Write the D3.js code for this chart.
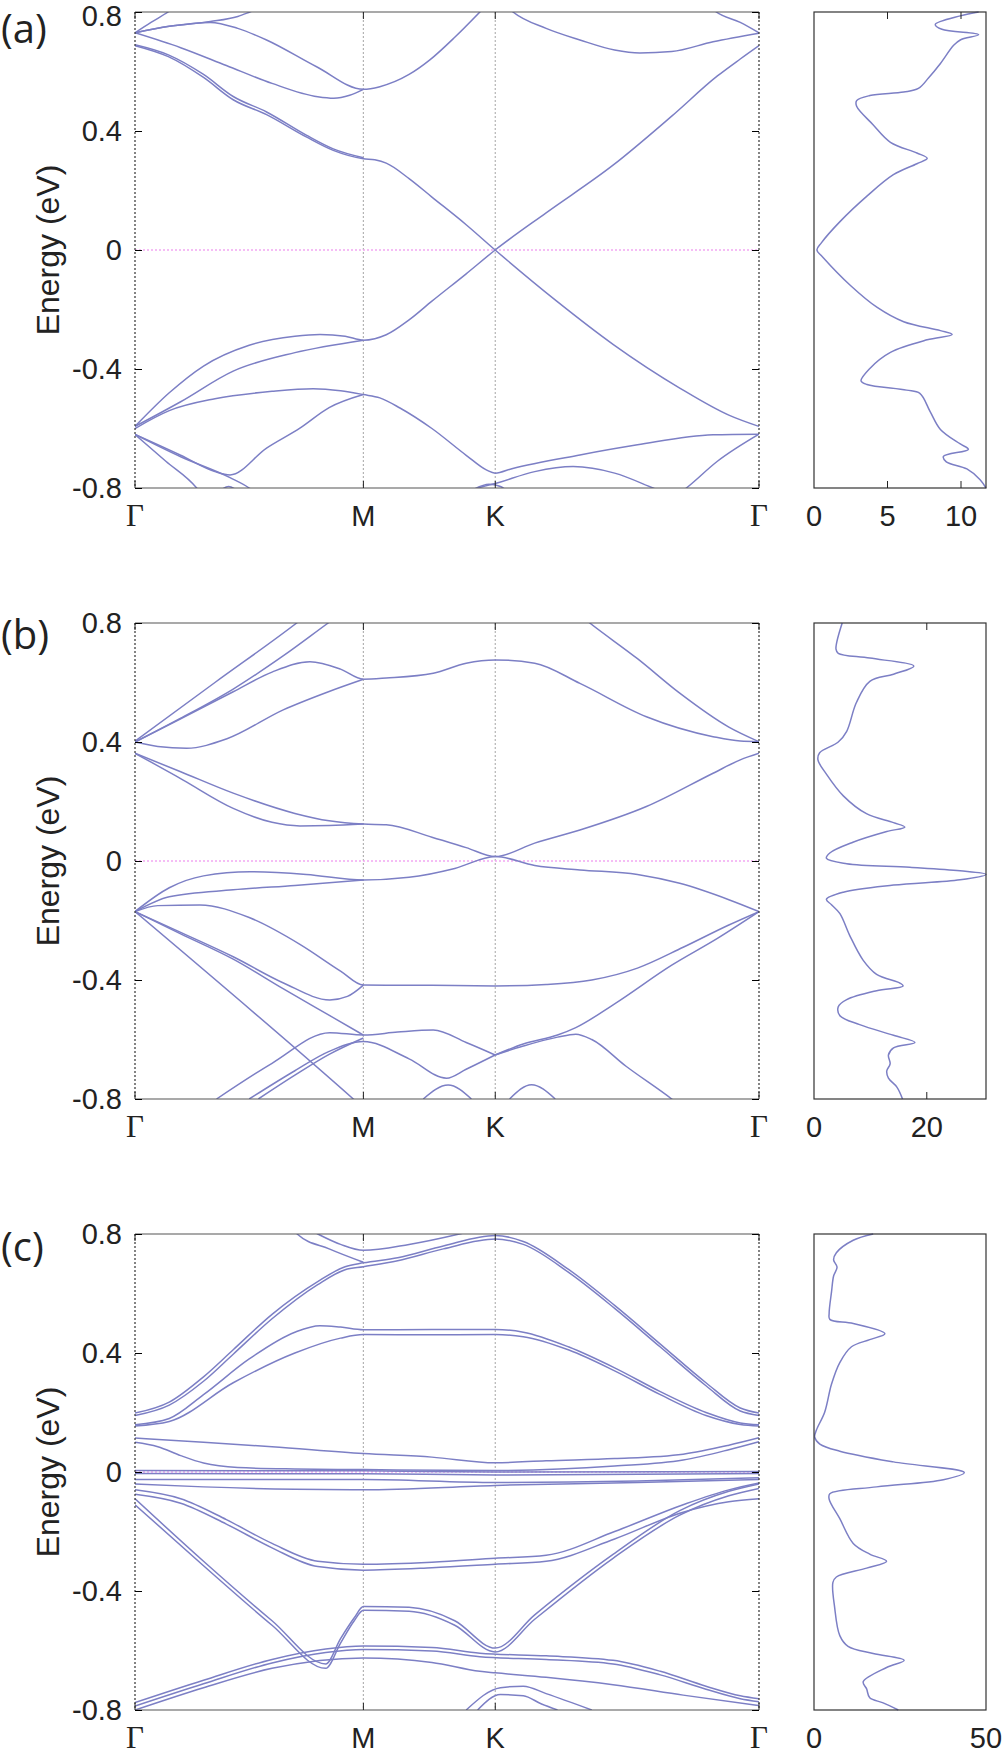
<!DOCTYPE html>
<html>
<head>
<meta charset="utf-8">
<script src="https://cdn.jsdelivr.net/npm/d3@7/dist/d3.min.js"></script>
<style>
  body { margin: 0; background: #fff; }
  text { font-family: "Liberation Sans", Arial, sans-serif; fill: #222; }
</style>
</head>
<body>
<svg id="fig" width="1004" height="1755"></svg>
<script>
// k-path: Γ - M - K - Γ (distance units, Γ-M = 1)
const kPoints = [0, 1, 1.5774, 2.7321];
const kNames = ["Γ", "M", "K", "Γ"];
const eTicks = [-0.8, -0.4, 0, 0.4, 0.8];

// ---------- panel (a) ----------
const bandsA = [
  [[0,0.73],[0.07,0.765],[0.145,0.80],[0.2,0.83]],
  [[0,0.73],[0.15,0.752],[0.33,0.768],[0.45,0.785],[0.503,0.80],[0.6,0.83]],
  [[0,0.73],[0.15,0.752],[0.33,0.765],[0.45,0.745],[0.576,0.706],[0.795,0.616],[1,0.54],
   [1.072,0.549],[1.2,0.59],[1.291,0.639],[1.4,0.715],[1.51,0.80],[1.56,0.84]],
  [[0,0.73],[0.2,0.68],[0.4,0.62],[0.6,0.56],[0.8,0.515],[0.87,0.51],[0.94,0.52],[1,0.54]],
  [[0,0.687],[0.146,0.65],[0.3,0.58],[0.43,0.505],[0.576,0.455],[0.75,0.38],[0.868,0.335],[1,0.307],
   [1.05,0.303],[1.1,0.292],[1.2,0.24],[1.3,0.178],[1.45,0.085],[1.577,0],[1.845,-0.171],[2.093,-0.317],[2.385,-0.464],[2.6,-0.555],[2.732,-0.593]],
  [[0,0.69],[0.146,0.656],[0.3,0.59],[0.43,0.516],[0.576,0.464],[0.75,0.386],[0.868,0.34],[1,0.31]],
  [[0,-0.593],[0.2,-0.51],[0.43,-0.407],[0.7,-0.345],[1,-0.303]],
  [[0,-0.593],[0.15,-0.48],[0.3,-0.39],[0.5,-0.32],[0.7,-0.29],[0.81,-0.284],[0.92,-0.29],[1,-0.303],
   [1.05,-0.298],[1.1,-0.285],[1.2,-0.235],[1.3,-0.172],[1.45,-0.08],[1.577,0],[1.8,0.125],[2.093,0.285],[2.35,0.45],[2.55,0.585],[2.65,0.642],[2.732,0.687]],
  [[0,-0.60],[0.15,-0.54],[0.35,-0.50],[0.6,-0.475],[0.78,-0.466],[0.9,-0.473],[1,-0.486],
   [1.072,-0.497],[1.16,-0.531],[1.3,-0.6],[1.45,-0.69],[1.54,-0.74],[1.577,-0.75],[1.65,-0.735],
   [1.948,-0.689],[2.2,-0.655],[2.531,-0.621],[2.732,-0.619]],
  [[0,-0.62],[0.2,-0.69],[0.35,-0.745],[0.416,-0.756],[0.576,-0.666],[0.722,-0.599],[0.85,-0.53],[1,-0.486]],
  [[0,-0.62],[0.2,-0.695],[0.416,-0.765],[0.5,-0.80],[0.55,-0.83]],
  [[0,-0.62],[0.135,-0.71],[0.27,-0.80],[0.3,-0.83]],
  [[0.37,-0.81],[0.41,-0.795],[0.45,-0.81]],
  [[1.47,-0.81],[1.55,-0.787],[1.6,-0.795],[1.63,-0.81]],
  [[1.5,-0.80],[1.577,-0.785],[1.75,-0.745],[1.918,-0.728],[2.1,-0.75],[2.268,-0.80],[2.3,-0.81]],
  [[2.38,-0.82],[2.414,-0.80],[2.55,-0.71],[2.732,-0.619]],
  [[2.5,0.83],[2.545,0.80],[2.65,0.765],[2.732,0.73]],
  [[1.6,0.84],[1.655,0.80],[1.8,0.745],[1.948,0.706],[2.1,0.672],[2.21,0.662],[2.35,0.667],[2.531,0.70],[2.732,0.729]]
];
const dosEA = [0.8,0.787,0.758,0.742,0.724,0.706,0.688,0.627,0.579,0.543,0.531,0.519,0.502,0.483,0.422,0.362,0.326,0.308,0.29,0.253,0.181,0.097,0.024,0,-0.024,-0.12,-0.193,-0.241,-0.271,-0.284,-0.302,-0.344,-0.398,-0.44,-0.452,-0.471,-0.482,-0.543,-0.603,-0.652,-0.67,-0.694,-0.712,-0.736,-0.772,-0.8];
const dosVA = [11.2,9.95,8.25,8.7,11.2,9.95,9.5,8.6,7.8,7.1,6.1,3.8,2.9,2.9,4.0,5.2,7.0,7.7,7.0,5.4,3.6,1.8,0.5,0.2,0.6,2.5,4.3,6.1,8.6,9.4,7.7,5.2,3.8,3.2,3.6,6.3,7.2,7.9,8.6,9.95,10.5,8.8,9.0,10.4,11.3,11.7];

// ---------- panel (b) ----------
const bandsB = [
  [[0,0.403],[0.35,0.60],[0.708,0.80],[0.75,0.825]],
  [[0,0.40],[0.2,0.48],[0.43,0.578],[0.65,0.69],[0.846,0.80],[0.9,0.83]],
  [[0,0.40],[0.2,0.478],[0.43,0.569],[0.6,0.635],[0.766,0.67],[0.9,0.645],[1,0.611],
   [1.1,0.615],[1.306,0.631],[1.45,0.665],[1.577,0.676],[1.75,0.665],[1.948,0.597],[2.239,0.485],[2.531,0.418],[2.65,0.403],[2.732,0.401]],
  [[0,0.40],[0.1,0.385],[0.226,0.379],[0.4,0.41],[0.649,0.508],[0.85,0.57],[1,0.611]],
  [[1.95,0.825],[1.991,0.80],[2.2,0.68],[2.385,0.564],[2.6,0.45],[2.732,0.401]],
  [[0,0.362],[0.2,0.30],[0.43,0.228],[0.7,0.16],[0.85,0.135],[1,0.124],
   [1.1,0.122],[1.3,0.08],[1.45,0.045],[1.577,0.015],[1.75,0.06],[1.948,0.104],[2.239,0.183],[2.531,0.295],[2.65,0.34],[2.732,0.362]],
  [[0,0.362],[0.1,0.32],[0.211,0.272],[0.43,0.177],[0.6,0.13],[0.722,0.118],[0.85,0.119],[1,0.124]],
  [[0,-0.17],[0.15,-0.09],[0.3,-0.05],[0.503,-0.036],[0.75,-0.045],[1,-0.064],
   [1.2,-0.055],[1.4,-0.025],[1.577,0.015],[1.75,-0.015],[1.948,-0.03],[2.2,-0.045],[2.385,-0.075],[2.6,-0.13],[2.732,-0.17]],
  [[0,-0.17],[0.15,-0.12],[0.43,-0.097],[0.7,-0.082],[1,-0.064]],
  [[0,-0.17],[0.1,-0.15],[0.284,-0.148],[0.5,-0.19],[0.722,-0.28],[0.9,-0.37],[1,-0.417],
   [1.3,-0.418],[1.577,-0.42],[1.8,-0.415],[2.0,-0.40],[2.2,-0.36],[2.4,-0.29],[2.6,-0.215],[2.732,-0.17]],
  [[0,-0.17],[0.2,-0.24],[0.43,-0.322],[0.65,-0.41],[0.853,-0.467],[0.93,-0.455],[1,-0.417]],
  [[0,-0.17],[0.2,-0.245],[0.43,-0.33],[0.65,-0.43],[0.853,-0.52],[1,-0.585]],
  [[0,-0.17],[0.956,-0.80],[1.0,-0.83]],
  [[0.357,-0.80],[0.6,-0.68],[0.853,-0.577],[1,-0.585],[1.15,-0.575],[1.306,-0.568],[1.45,-0.61],[1.577,-0.652]],
  [[0.5,-0.80],[0.7,-0.705],[0.85,-0.64],[1,-0.607],[1.2,-0.665],[1.364,-0.73],[1.45,-0.70],[1.577,-0.652]],
  [[0.54,-0.80],[0.7,-0.72],[0.85,-0.65],[1,-0.595]],
  [[1.262,-0.80],[1.371,-0.753],[1.473,-0.80]],
  [[1.577,-0.652],[1.7,-0.615],[1.85,-0.585],[1.93,-0.56],[2.1,-0.48],[2.35,-0.35],[2.55,-0.26],[2.732,-0.17]],
  [[1.577,-0.652],[1.7,-0.622],[1.85,-0.592],[1.93,-0.582],[2.0,-0.60],[2.15,-0.69],[2.35,-0.80],[2.4,-0.83]],
  [[1.64,-0.80],[1.736,-0.752],[1.84,-0.80]]
];
const dosEB = [0.8,0.712,0.698,0.682,0.655,0.628,0.604,0.532,0.436,0.4,0.364,0.34,0.292,0.219,0.159,0.129,0.114,0.099,0.063,0.027,0.009,-0.009,-0.021,-0.033,-0.045,-0.063,-0.081,-0.105,-0.129,-0.147,-0.177,-0.249,-0.333,-0.381,-0.411,-0.42,-0.436,-0.466,-0.49,-0.52,-0.55,-0.586,-0.61,-0.628,-0.652,-0.682,-0.706,-0.73,-0.76,-0.8];
const dosVB = [5.0,3.9,4.3,9.9,17.7,14.1,9.9,7.5,5.8,4.3,1.0,0.7,2.2,5.2,9.3,14.1,16.1,12.9,6.9,2.8,2.2,5.8,17.0,25.9,30.5,25.9,14.1,5.2,2.2,3.1,4.6,6.3,8.7,11.1,15.3,15.8,11.1,5.8,4.3,4.6,8.1,14.1,17.9,14.1,13.2,13.5,12.9,13.2,14.7,15.7];

// ---------- panel (c) ----------
const bandsC = [
  [[0,0.198],[0.15,0.235],[0.3,0.32],[0.43,0.411],[0.6,0.53],[0.8,0.64],[0.92,0.69],[1,0.703],[1.15,0.72],[1.35,0.76],[1.577,0.795],[1.7,0.775],[1.9,0.68],[2.1,0.56],[2.3,0.43],[2.5,0.3],[2.65,0.215],[2.732,0.198]],
  [[0,0.19],[0.15,0.225],[0.3,0.305],[0.43,0.396],[0.6,0.515],[0.8,0.63],[0.92,0.68],[1,0.69],[1.15,0.71],[1.35,0.75],[1.577,0.783],[1.7,0.765],[1.9,0.67],[2.1,0.55],[2.3,0.42],[2.5,0.29],[2.65,0.205],[2.732,0.19]],
  [[0,0.159],[0.15,0.18],[0.3,0.26],[0.5,0.38],[0.7,0.47],[0.81,0.492],[0.9,0.487],[1,0.478],[1.3,0.479],[1.577,0.479],[1.7,0.47],[1.9,0.42],[2.1,0.35],[2.3,0.27],[2.5,0.2],[2.65,0.165],[2.732,0.159]],
  [[0,0.155],[0.15,0.17],[0.43,0.30],[0.7,0.40],[0.9,0.45],[1,0.462],[1.3,0.461],[1.577,0.462],[1.7,0.455],[1.9,0.41],[2.1,0.34],[2.3,0.26],[2.5,0.19],[2.65,0.16],[2.732,0.155]],
  [[0.75,0.82],[0.8,0.80],[0.9,0.765],[1,0.745],[1.2,0.765],[1.42,0.80],[1.5,0.815]],
  [[0.69,0.82],[0.71,0.80],[0.85,0.75],[1,0.705]],
  [[0,0.114],[0.3,0.1],[0.6,0.085],[1,0.062],[1.3,0.05],[1.577,0.031],[1.8,0.038],[2.1,0.045],[2.4,0.06],[2.6,0.09],[2.732,0.115]],
  [[0,0.10],[0.1,0.085],[0.2,0.055],[0.3,0.03],[0.45,0.015],[0.7,0.01],[1,0.008],[1.577,0.005],[2.1,0.02],[2.4,0.04],[2.6,0.075],[2.732,0.102]],
  [[0,0.005],[1,0.004],[1.577,0.0],[2.732,0.002]],
  [[0,-0.005],[1,-0.006],[1.577,-0.01],[2.732,-0.005]],
  [[0,-0.025],[1,-0.025],[1.577,-0.035],[2.2,-0.03],[2.732,-0.019]],
  [[0,-0.04],[0.3,-0.05],[0.7,-0.058],[1,-0.06],[1.577,-0.045],[2.2,-0.035],[2.732,-0.025]],
  [[0,-0.06],[0.2,-0.09],[0.4,-0.16],[0.6,-0.24],[0.8,-0.3],[1,-0.31],[1.3,-0.303],[1.577,-0.29],[1.8,-0.28],[2.1,-0.2],[2.4,-0.11],[2.6,-0.06],[2.732,-0.037]],
  [[0,-0.075],[0.2,-0.105],[0.4,-0.175],[0.6,-0.255],[0.8,-0.318],[1,-0.33],[1.3,-0.322],[1.577,-0.31],[1.8,-0.30],[2.1,-0.225],[2.4,-0.135],[2.6,-0.1],[2.732,-0.09]],
  [[0,-0.09],[0.3,-0.30],[0.6,-0.50],[0.835,-0.645],[0.9,-0.56],[0.96,-0.49],[1,-0.452],[1.2,-0.455],[1.4,-0.50],[1.577,-0.592],
   [1.75,-0.48],[2.093,-0.277],[2.385,-0.13],[2.6,-0.065],[2.732,-0.04]],
  [[0,-0.11],[0.3,-0.315],[0.6,-0.515],[0.835,-0.66],[0.9,-0.575],[0.96,-0.5],[1,-0.465],[1.2,-0.468],[1.4,-0.515],[1.577,-0.605],
   [1.75,-0.495],[2.093,-0.29],[2.385,-0.145],[2.6,-0.08],[2.732,-0.055]],
  [[0,-0.775],[0.3,-0.70],[0.6,-0.63],[0.835,-0.595],[1,-0.585],[1.3,-0.59],[1.51,-0.609],[1.8,-0.618],[2.093,-0.633],[2.3,-0.67],[2.5,-0.72],[2.65,-0.752],[2.732,-0.762]],
  [[0,-0.787],[0.3,-0.712],[0.6,-0.642],[0.835,-0.607],[1,-0.597],[1.3,-0.602],[1.51,-0.621],[1.8,-0.63],[2.093,-0.645],[2.3,-0.682],[2.5,-0.73],[2.65,-0.762],[2.732,-0.772]],
  [[0,-0.80],[0.3,-0.725],[0.6,-0.66],[1,-0.625],[1.3,-0.64],[1.51,-0.67],[1.577,-0.675],[1.8,-0.69],[2.093,-0.715],[2.4,-0.75],[2.732,-0.785]],
  [[1.45,-0.80],[1.6,-0.725],[1.7,-0.72],[1.8,-0.745],[2.0,-0.80]],
  [[1.5,-0.80],[1.6,-0.748],[1.7,-0.752],[1.78,-0.78],[1.85,-0.80]]
];
const dosEC = [0.8,0.779,0.737,0.713,0.689,0.659,0.606,0.534,0.513,0.499,0.465,0.445,0.421,0.368,0.296,0.201,0.141,0.117,0.094,0.07,0.034,-0.002,-0.026,-0.05,-0.073,-0.091,-0.157,-0.24,-0.276,-0.3,-0.323,-0.353,-0.371,-0.455,-0.55,-0.586,-0.61,-0.633,-0.657,-0.705,-0.729,-0.759,-0.776,-0.8];
const dosVC = [17.2,11.4,6.5,5.7,6.7,5.7,5.1,4.4,4.6,11.4,20.6,16.2,10.9,7.5,5.1,3.1,0.7,0.2,1.7,7.5,23.1,43.7,37.6,18.2,4.6,4.4,7.5,11.4,16.2,21.1,15.3,6.5,5.5,6.0,7.5,9.9,17.2,26.2,21.1,14.3,15.3,16.2,20.1,24.5];

const panels = [
  { label: "(a)", top: 12,   labelY: 28,   bands: bandsA, dosE: dosEA, dosV: dosVA, dosMax: 11.7, dosTicks: [0, 5, 10] },
  { label: "(b)", top: 623,  labelY: 634,  bands: bandsB, dosE: dosEB, dosV: dosVB, dosMax: 30.5, dosTicks: [0, 20] },
  { label: "(c)", top: 1234, labelY: 1246, bands: bandsC, dosE: dosEC, dosV: dosVC, dosMax: 50,   dosTicks: [0, 50] }
];

const H = 476;
const bandX0 = 135, bandX1 = 759;
const dosX0 = 814, dosX1 = 986;
const lineColor = "#7c7fc5";

const svg = d3.select("#fig");

panels.forEach((p, i) => {
  const g = svg.append("g").attr("transform", `translate(0,${p.top})`);
  const x = d3.scaleLinear().domain([0, kPoints[3]]).range([bandX0, bandX1]);
  const y = d3.scaleLinear().domain([-0.8, 0.8]).range([H, 0]);

  const clipId = "clip" + i;
  g.append("clipPath").attr("id", clipId)
    .append("rect").attr("x", bandX0).attr("y", 0).attr("width", bandX1 - bandX0).attr("height", H);

  // high-symmetry lines
  g.selectAll(".kline").data(kPoints.slice(1, 3)).enter().append("line")
    .attr("x1", d => x(d)).attr("x2", d => x(d)).attr("y1", 0).attr("y2", H)
    .attr("stroke", "#b4b4b4").attr("stroke-width", 1.2).attr("stroke-dasharray", "2,2");

  // Fermi level
  g.append("line").attr("x1", bandX0).attr("x2", bandX1).attr("y1", y(0)).attr("y2", y(0))
    .attr("stroke", "#f2a8f2").attr("stroke-width", 1.5).attr("stroke-dasharray", "2,2");

  // bands
  const line = d3.line().x(d => x(d[0])).y(d => y(d[1])).curve(d3.curveMonotoneX);
  g.append("g").attr("clip-path", `url(#${clipId})`)
    .selectAll("path").data(p.bands).enter().append("path")
    .attr("d", line).attr("fill", "none")
    .attr("stroke", lineColor).attr("stroke-width", 1.5);

  // frame: solid top/bottom, dotted Γ edges
  [0, H].forEach(yy => g.append("line").attr("x1", bandX0).attr("x2", bandX1)
    .attr("y1", yy).attr("y2", yy).attr("stroke", "#555").attr("stroke-width", 1.2));
  [kPoints[0], kPoints[3]].forEach(k => g.append("line").attr("x1", x(k)).attr("x2", x(k))
    .attr("y1", 0).attr("y2", H).attr("stroke", "#333").attr("stroke-width", 1.2).attr("stroke-dasharray", "2,2"));

  // y axis
  const yAxis = g.append("g").attr("transform", `translate(${bandX0},0)`)
    .call(d3.axisLeft(y).tickValues(eTicks).tickSizeInner(-7).tickSizeOuter(0).tickPadding(13)
      .tickFormat(d => String(d)));
  yAxis.select(".domain").remove();
  yAxis.selectAll("text").style("font-size", "29px").attr("fill", "#222");
  if (i === 0) yAxis.selectAll("text").filter(d => d === 0.8).attr("dy", "0.45em");
  const yAxisR = g.append("g").attr("transform", `translate(${bandX1},0)`)
    .call(d3.axisRight(y).tickValues(eTicks).tickSizeInner(-7).tickSizeOuter(0).tickFormat(""));
  yAxisR.select(".domain").remove();

  // k ticks top & bottom
  g.selectAll(".kt").data(kPoints).enter().append("line")
    .attr("x1", d => x(d)).attr("x2", d => x(d)).attr("y1", H).attr("y2", H - 7).attr("stroke", "#222");
  g.selectAll(".kt2").data(kPoints).enter().append("line")
    .attr("x1", d => x(d)).attr("x2", d => x(d)).attr("y1", 0).attr("y2", 7).attr("stroke", "#222");

  g.selectAll(".klab").data(kPoints).enter().append("text")
    .attr("x", d => x(d)).attr("y", H + 38).attr("text-anchor", "middle")
    .style("font-family", (d, j) => kNames[j] === "Γ" ? "'Liberation Serif', 'Times New Roman', serif" : null)
    .style("font-size", (d, j) => kNames[j] === "Γ" ? "31px" : "29px")
    .text((d, j) => kNames[j]);

  // y label
  g.append("text").attr("transform", `translate(59,${H / 2}) rotate(-90)`)
    .attr("text-anchor", "middle").style("font-size", "32px").text("Energy (eV)");

  // panel label
  svg.append("text").attr("x", 1).attr("y", p.labelY + 15)
    .style("font-family", "'Open Sans', 'Noto Sans', sans-serif").style("font-size", "40px")
    .attr("fill", "#111").text(p.label);

  // ---------- DOS ----------
  const xd = d3.scaleLinear().domain([0, p.dosMax]).range([dosX0, dosX1]);
  const dosPts = p.dosE.map((e, j) => [p.dosV[j], e]);
  const dclip = "dclip" + i;
  g.append("clipPath").attr("id", dclip)
    .append("rect").attr("x", dosX0).attr("y", -1).attr("width", dosX1 - dosX0 + 1).attr("height", H + 2);
  g.append("path").datum(dosPts).attr("clip-path", `url(#${dclip})`)
    .attr("d", d3.line().x(d => xd(d[0])).y(d => y(d[1])).curve(d3.curveCatmullRom.alpha(0.5)))
    .attr("fill", "none").attr("stroke", lineColor).attr("stroke-width", 1.5);
  g.append("rect").attr("x", dosX0).attr("y", 0).attr("width", dosX1 - dosX0).attr("height", H)
    .attr("fill", "none").attr("stroke", "#333").attr("stroke-width", 1.2);
  const inner = p.dosTicks.filter(t => t > 0 && t < p.dosMax);
  g.selectAll(".dt").data(inner).enter().append("line")
    .attr("x1", d => xd(d)).attr("x2", d => xd(d)).attr("y1", H).attr("y2", H - 7).attr("stroke", "#222");
  g.selectAll(".dt2").data(inner).enter().append("line")
    .attr("x1", d => xd(d)).attr("x2", d => xd(d)).attr("y1", 0).attr("y2", 7).attr("stroke", "#222");
  g.selectAll(".dl").data(p.dosTicks).enter().append("text")
    .attr("x", d => xd(d)).attr("y", H + 38).attr("text-anchor", "middle")
    .style("font-size", "29px").text(d => d);
});
</script>
</body>
</html>
